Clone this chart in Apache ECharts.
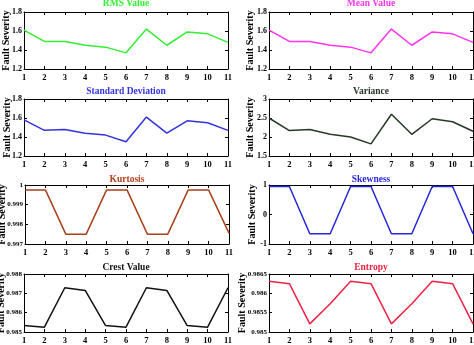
<!DOCTYPE html>
<html><head><meta charset="utf-8">
<script src="https://cdn.jsdelivr.net/npm/echarts@6/dist/echarts.min.js"></script>
<style>html,body{margin:0;padding:0;background:#fff}#c{width:474px;height:345px}</style>
</head><body><div id="c"></div>
<script>
const categories = [1, 2, 3, 4, 5, 6, 7, 8, 9, 10, 11];
const rmsValues = [1.61, 1.49, 1.49, 1.45, 1.43, 1.37, 1.62, 1.45, 1.59, 1.57, 1.48];
const meanValues = [1.61, 1.49, 1.49, 1.45, 1.43, 1.37, 1.62, 1.45, 1.59, 1.57, 1.48];
const stdValues = [1.58, 1.47, 1.48, 1.44, 1.42, 1.35, 1.61, 1.44, 1.57, 1.55, 1.47];
const varianceValues = [2.5, 2.17, 2.2, 2.07, 2.0, 1.82, 2.6, 2.07, 2.48, 2.4, 2.15];
const kurtosisValues = [0.99975, 0.99975, 0.9975, 0.9975, 0.99975, 0.99975, 0.9975, 0.9975, 0.99975, 0.99975, 0.99755];
const skewnessValues = [0.95, 0.95, -0.65, -0.65, 0.95, 0.95, -0.65, -0.65, 0.95, 0.95, -0.65];
const crestValues = [0.98533, 0.98525, 0.98729, 0.98715, 0.98533, 0.98525, 0.98729, 0.98715, 0.98533, 0.98525, 0.98729];
const entropyValues = [0.98631, 0.98625, 0.98521, 0.98573, 0.98631, 0.98625, 0.98521, 0.98573, 0.98631, 0.98625, 0.98521];
const titles = ['RMS Value', 'Mean Value', 'Standard Deviation', 'Variance', 'Kurtosis', 'Skewness', 'Crest Value', 'Entropy'];
const yMins = [1.2, 1.2, 1.2, 1.5, 0.997, -1, 0.985, 0.985];
const yMaxs = [1.8, 1.8, 1.8, 3, 1, 1, 0.988, 0.9865];
const yIntervals = [0.2, 0.2, 0.2, 0.5, 0.001, 1, 0.001, 0.0005];
const yAxisName = 'Fault Severity';

const allValues = [rmsValues, meanValues, stdValues, varianceValues, kurtosisValues, skewnessValues, crestValues, entropyValues];
const colors = ['#33ee33', '#ff33ee', '#3333dd', '#263826', '#a8401c', '#2626dd', '#111111', '#ee2244'];
const titleColors = ['#33ee33', '#ff33ee', '#3333dd', '#263826', '#b3401e', '#2626dd', '#111111', '#ee2244'];
const layout = [
  {left: 24, top: 12, height: 57, tt: 4, ng: 13, fs: 8},
  {left: 269, top: 12, height: 57, tt: 4, ng: 14, fs: 8},
  {left: 24, top: 99, height: 57, tt: 92, ng: 12, fs: 8},
  {left: 269, top: 99, height: 57, tt: 92, ng: 14, fs: 8},
  {left: 25, top: 185, height: 59, tt: 180, ng: 18, fs: 7},
  {left: 269, top: 185, height: 59, tt: 180, ng: 12, fs: 8},
  {left: 24, top: 274, height: 58, tt: 268, ng: 18, fs: 7},
  {left: 269, top: 274, height: 58, tt: 268, ng: 22, fs: 7}
];
const FONT = '"Liberation Serif", "Times New Roman", serif';
const grid = [], xAxis = [], yAxis = [], series = [], title = [];
allValues.forEach((vals, i) => {
  const L = layout[i];
  const w = 204;
  grid.push({left: L.left, top: L.top, width: w, height: L.height, containLabel: false, outerBoundsMode: 'none'});
  const tick = {show: true, inside: true, length: 3, lineStyle: {color: '#000'}};
  const line = {show: true, onZero: false, lineStyle: {color: '#000', width: 1}};
  xAxis.push({gridIndex: i, type: 'value', min: 1, max: 11, interval: 1, position: 'bottom',
    axisLine: line, axisTick: tick, splitLine: {show: false},
    axisLabel: {show: true, color: '#000', fontFamily: FONT, fontWeight: 'bold', fontSize: 8.5, margin: 4}});
  xAxis.push({gridIndex: i, type: 'value', min: 1, max: 11, interval: 1, position: 'top',
    axisLine: line, axisTick: tick, splitLine: {show: false}, axisLabel: {show: false}});
  yAxis.push({gridIndex: i, type: 'value', min: yMins[i], max: yMaxs[i], interval: yIntervals[i], position: 'left',
    axisLine: line, axisTick: tick, splitLine: {show: false},
    name: yAxisName, nameLocation: 'middle', nameGap: L.ng, nameRotate: 90, nameMoveOverlap: false,
    nameTextStyle: {color: '#000', fontFamily: FONT, fontWeight: 'bold', fontSize: 10},
    axisLabel: {show: true, color: '#000', fontFamily: FONT, fontWeight: 'bold', fontSize: L.fs, margin: 2}});
  yAxis.push({gridIndex: i, type: 'value', min: yMins[i], max: yMaxs[i], interval: yIntervals[i], position: 'right',
    axisLine: line, axisTick: tick, splitLine: {show: false}, axisLabel: {show: false}});
  series.push({type: 'line', xAxisIndex: 2 * i, yAxisIndex: 2 * i, symbol: 'none',
    lineStyle: {color: colors[i], width: 1.5}, data: categories.map((c, k) => [c, vals[k]])});
  title.push({text: titles[i], left: L.left + w / 2, top: L.tt - 5, textAlign: 'center', padding: 0,
    textStyle: {color: titleColors[i], fontFamily: FONT, fontWeight: 'bold', fontSize: 9.5}});
});
const chart = echarts.init(document.getElementById('c'), null, {renderer: 'canvas'});
chart.setOption({animation: false, title, grid, xAxis, yAxis, series});
</script></body></html>
